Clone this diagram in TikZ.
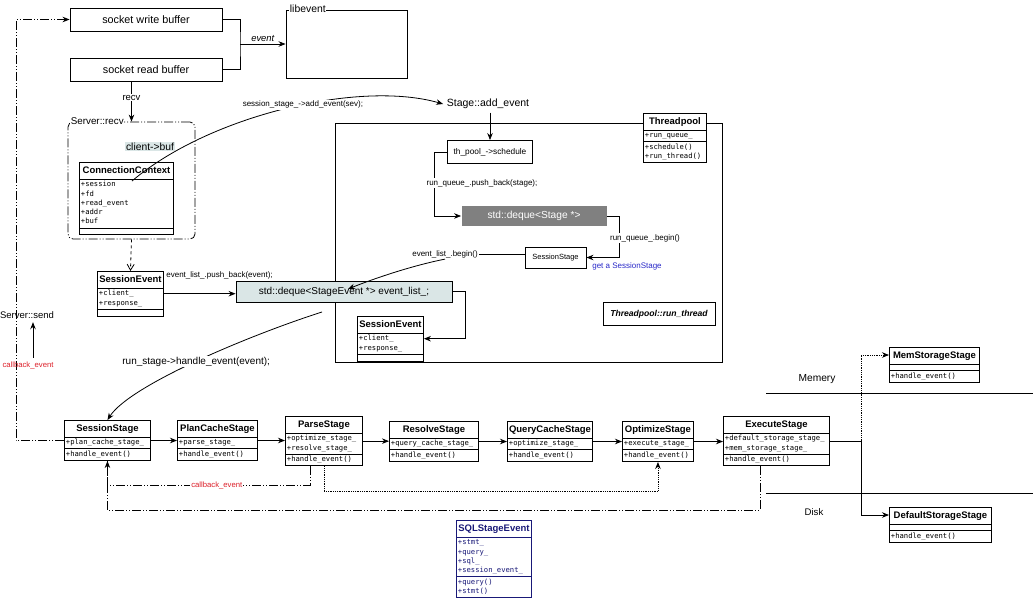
\documentclass[tikz,border=0pt]{standalone}
\usepackage{fontspec}
\setmainfont{Liberation Sans}
\setmonofont{DejaVu Sans Mono}
\usetikzlibrary{arrows.meta,shapes.multipart}

\definecolor{dqfill}{RGB}{218,230,230}
\definecolor{dqgray}{RGB}{128,128,128}
\definecolor{cbred}{RGB}{220,30,40}
\definecolor{getblue}{RGB}{40,40,200}
\definecolor{navy}{RGB}{25,25,120}

\newcommand\umlfont{\fontsize{7.2}{9.3}\selectfont\ttfamily}
\newcommand\umlhead[1]{\rmfamily\bfseries\fontsize{9.5}{14}\selectfont\strut\makebox[\linewidth]{#1}\par}
\newcommand\umlrow{\umlfont\strut}
\newcommand\nl{\par\strut}
\newcommand\umlnone{\rule{0pt}{4.4pt}}
\newcommand\fs[1]{\fontsize{#1}{#1}\selectfont}

\tikzset{
  arr/.style={-{Stealth[length=7pt,width=5.5pt]}},
  dashdotdot/.style={dash pattern=on 9pt off 2pt on 1pt off 2pt on 1pt off 2pt},
  box/.style={draw, line width=0.9pt, inner sep=0pt},
  uml/.style={draw, line width=0.9pt, fill=white, rectangle split, rectangle split parts=3,
    text width=#1, inner xsep=1.5pt, inner ysep=0.8pt, anchor=north west, align=left, font=\umlfont},
  lbl/.style={font=\fs{8}, inner sep=1pt},
}

\begin{document}
\begin{tikzpicture}[x=1pt, y=-1pt, line width=0.8pt]
	\useasboundingbox (0,0) rectangle (1035,597);
	
	% sockets and libevent
	\node[box, minimum width=152pt, minimum height=23pt, font=\fs{10.8}] (wbuf) at (146,19.5) {socket write buffer};
	\node[box, minimum width=152pt, minimum height=23pt, font=\fs{10.8}] (rbuf) at (146,69.5) {socket read buffer};
	\node[box, minimum width=121pt, minimum height=68pt] (libev) at (346.5,44) {};
	\node[fill=white, inner sep=0.5pt, anchor=west, font=\fs{10.4}] (libevlbl) at (289,8.5) {libevent};
	\coordinate (evj) at (240,44);
	\draw (wbuf.east) -| (evj) |- (rbuf.east);
	\draw[arr] (evj) -- node[above, inner sep=2pt, font=\itshape\fs{9.4}] {event} (libev.west);
	
	% Server::recv
	\node[draw, dashdotdot, rounded corners=5pt, minimum width=127pt, minimum height=117pt] (recvbox) at (131.5,180.5) {};
	\node[fill=white, inner sep=0.5pt, anchor=west, font=\fs{9.8}] (recvlbl) at (70,121.5) {Server::recv};
	\draw[arr] (rbuf.south -| recvbox.north) -- node[pos=0.4, fill=white, inner sep=1pt, font=\fs{9.5}] {recv} (recvbox.north);
	\node[fill=dqfill, inner sep=1pt, font=\fs{10.3}] (clbuf) at (150,146.5) {client->buf};
	\node[uml=91pt] (connctx) at (79,162) {\umlhead{ConnectionContext}
		\nodepart{two}\umlrow +session\nl +fd\nl +read\_event\nl +addr\nl +buf\par
		\nodepart{three}\umlnone};
	\node[uml=63pt] (sev) at (97,271) {\umlhead{SessionEvent}
		\nodepart{two}\umlrow +client\_\nl +response\_\par
		\nodepart{three}\umlnone};
	\draw[dashed, -{Straight Barb[length=6pt,width=7pt]}] (recvbox.south) -- (sev.north);
	
	% Threadpool::run_thread
	\node[draw, line width=0.9pt, minimum width=387pt, minimum height=239pt] (tpregion) at (528.5,242.5) {};
	\node[uml=60pt] (tp) at (643,113) {\umlhead{Threadpool}
		\nodepart{two}\umlrow +run\_queue\_
		\nodepart{three}\umlrow +schedule()\nl +run\_thread()\par};
	\node[font=\fs{10.5}] (addev) at (488,104) {Stage::add\_event};
	\node[box, minimum width=85pt, minimum height=23pt, font=\fs{8.3}] (sched) at (490,152) {th\_pool\_->schedule};
	\node[fill=dqgray, text=white, minimum width=145pt, minimum height=20pt, inner sep=0pt, font=\fs{10.2}] (gdq) at (534,216) {std::deque<Stage *>};
	\node[box, minimum width=61pt, minimum height=21pt, font=\fs{7.5}] (ssmall) at (555.5,257.5) {SessionStage};
	\node[box, fill=dqfill, minimum width=216pt, minimum height=21pt, font=\fs{10}] (dq) at (344,291.5) {std::deque<StageEvent *> event\_list\_;};
	\node[uml=63pt] (sev2) at (357,316) {\umlhead{SessionEvent}
		\nodepart{two}\umlrow +client\_\nl +response\_\par
		\nodepart{three}\umlnone};
	\node[box, minimum width=112pt, minimum height=23pt, font=\bfseries\itshape\fs{8.6}] (rtbox) at (659,314) {Threadpool::run\_thread};
	
	\draw[arr] (addev.south -| sched.north) -- (sched.north);
	\draw[arr] (sched.west) -- ++(-13,0) |- (gdq.west);
	\node[lbl, fill=white] (pushlbl) at (482,183) {run\_queue\_.push\_back(stage);};
	\draw[arr] (gdq.east) -- ++(12,0) |- (ssmall.east);
	\node[lbl, fill=white] (beginlbl) at (645,238) {run\_queue\_.begin()};
	\node[lbl, text=getblue] (getlbl) at (627,266) {get a SessionStage};
	\node[lbl, fill=white] (evbeglbl) at (445,254) {event\_list\_.begin()};
	\draw (ssmall.west |- evbeglbl.east) -- (evbeglbl.east);
	\coordinate (dqin) at (348,289);
	\draw[arr] (evbeglbl.south) .. controls (415,265) and (378,277) .. (dqin);
	\draw[arr] (dq.east) -- ++(13,0) |- (sev2.east);
	\draw[arr] (sev.east) -- (sev.east -| dq.west);
	\node[lbl, anchor=south west] (pushevlbl) at (165,281) {event\_list\_.push\_back(event);};
	
	\coordinate (sesspt) at (132,181);
	\draw[arr] (sesspt) .. controls (210,115) and (360,80) .. node[lbl, fill=white, pos=0.55] {session\_stage\_->add\_event(sev);} (addev.west);
	
	% stages
	\node[uml=83pt] (sess) at (64,420) {\umlhead{SessionStage}
		\nodepart{two}\umlrow +plan\_cache\_stage\_
		\nodepart{three}\umlrow +handle\_event()};
	\node[uml=77pt] (plan) at (177,420) {\umlhead{PlanCacheStage}
		\nodepart{two}\umlrow +parse\_stage\_
		\nodepart{three}\umlrow +handle\_event()};
	\node[uml=74pt] (parse) at (285,416) {\umlhead{ParseStage}
		\nodepart{two}\umlrow +optimize\_stage\_\nl +resolve\_stage\_\par
		\nodepart{three}\umlrow +handle\_event()};
	\node[uml=86pt] (resolve) at (389,421) {\umlhead{ResolveStage}
		\nodepart{two}\umlrow +query\_cache\_stage\_
		\nodepart{three}\umlrow +handle\_event()};
	\node[uml=82pt] (qcache) at (507,421) {\umlhead{QueryCacheStage}
		\nodepart{two}\umlrow +optimize\_stage\_
		\nodepart{three}\umlrow +handle\_event()};
	\node[uml=68pt] (opt) at (622,421) {\umlhead{OptimizeStage}
		\nodepart{two}\umlrow +execute\_stage\_
		\nodepart{three}\umlrow +handle\_event()};
	\node[uml=103pt] (exec) at (723,416) {\umlhead{ExecuteStage}
		\nodepart{two}\umlrow +default\_storage\_stage\_\nl +mem\_storage\_stage\_\par
		\nodepart{three}\umlrow +handle\_event()};
	\node[uml=87pt] (mem) at (889,347) {\umlhead{MemStorageStage}
		\nodepart{two}\umlnone
		\nodepart{three}\umlrow +handle\_event()};
	\node[uml=99pt] (def) at (889,507) {\umlhead{DefaultStorageStage}
		\nodepart{two}\umlnone
		\nodepart{three}\umlrow +handle\_event()};
	\node[uml=72pt, draw=navy, text=navy] (sql) at (456,520) {\umlhead{SQLStageEvent}
		\nodepart{two}\umlrow +stmt\_\nl +query\_\nl +sql\_\nl +session\_event\_\par
		\nodepart{three}\umlrow +query()\nl +stmt()\par};
	
	\foreach \a/\b in {sess/plan, plan/parse, parse/resolve, resolve/qcache, qcache/opt, opt/exec}
	\draw[arr] (\a.east) -- (\a.east -| \b.west);
	
	\coordinate (rsstart) at (322,312);
	\draw[arr] (rsstart) .. controls (250,335) and (130,385) .. node[pos=0.5, fill=white, inner sep=1pt, font=\fs{10}] {run\_stage->handle\_event(event);} (sess.north);
	
	% storage
	\draw (exec.east) -- ++(31,0) coordinate (xj);
	\draw[densely dotted, arr] (xj) |- ([yshift=-8pt]mem.north west);
	\draw[arr] (xj) |- ([yshift=-8pt]def.north west);
	\draw (766,393) -- (1033,393);
	\draw (766,493) -- (1033,493);
	\node[font=\fs{10.2}] (memlbl) at (817,379) {Memery};
	\node[font=\fs{9.6}] (disklbl) at (814,512) {Disk};
	
	% callbacks
	\draw[densely dotted, arr] (parse.south) -- ++(0,25) -| (opt.south);
	\draw[dashdotdot, arr] ([xshift=-14pt]parse.south) -- ++(0,19) -| node[pos=0.23, fill=white, inner sep=1pt, text=cbred, font=\fs{7.7}] {callback\_event} (sess.south);
	\draw[dashdotdot] ([xshift=-16.5pt]exec.south) -- ++(0,44) -| (sess.south);
	\draw[dashdotdot, arr] (sess.west) -- ++(-48,0) |- (wbuf.west);
	\node[font=\fs{9.5}] (sendlbl) at (27,315) {Server::send};
	\node[text=cbred, font=\fs{7.7}] (cblbl) at (28,365) {callback\_event};
	\draw[arr] ([xshift=5pt]cblbl.north) -- ([xshift=6pt]sendlbl.south);
	
\end{tikzpicture}
\end{document}
